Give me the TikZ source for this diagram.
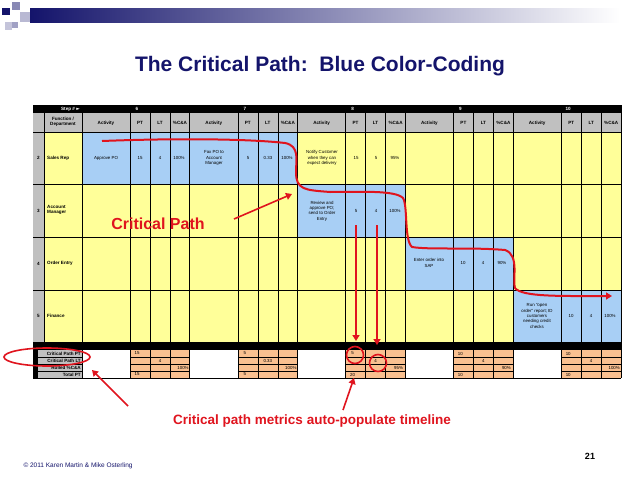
\documentclass[tikz,border=0pt]{standalone}
\usepackage{fontspec}
\setmainfont{Liberation Sans}
\newfontfamily\djv{DejaVu Sans}
\usetikzlibrary{arrows.meta}
\definecolor{navy}{HTML}{14146B}
\definecolor{cblue}{HTML}{A8CFF5}
\definecolor{cyel}{HTML}{FFFF99}
\definecolor{corg}{HTML}{F9C090}
\definecolor{cgray}{HTML}{C0C0C0}
\definecolor{cred}{HTML}{E0141E}
\tikzset{
 tiny/.style={font=\fontsize{4.4}{5.4}\selectfont,align=center,inner sep=0pt},
 tinyb/.style={font=\fontsize{4.6}{5.4}\selectfont\bfseries,align=center,inner sep=0pt},
 redl/.style={draw=cred,line width=2pt},
 redarr/.style={draw=cred,line width=1.6pt,-{Triangle[length=6pt,width=7pt]}},
 gridl/.style={draw=black,line width=0.5pt}
}
\begin{document}
\begin{tikzpicture}[x=1pt,y=-1pt]
\useasboundingbox (0,0) rectangle (638,479);
\fill[white] (0,0) rectangle (638,479);
% top decoration
\shade[left color=navy,right color=white] (30,8) rectangle (620,22);
\fill[navy] (2,8) rectangle (10,15);
\fill[navy!50] (12,2) rectangle (20,10);
\fill[navy!30] (20,12) rectangle (30,22);
\fill[navy!25] (5,22) rectangle (12,30);
\fill[navy!40] (12,22) rectangle (18,28);
\node[font=\fontsize{21}{24}\selectfont\bfseries,text=navy] (title) at (320,66) {The Critical Path:\ \ Blue Color-Coding};
\def\bw{107.8}
\fill[black] (33,105) rectangle (621,113);
\fill[cgray] (33,113) rectangle (621,132);
\node[tinyb,text=white,anchor=east] (steplbl) at (80,109) {Step \# {\djv ►}};
\node[tinyb] (fdh) at (63,122) {Function /\\Department};
\fill[cgray] (33,132) rectangle (44,342);
\foreach \y/\h/\n in {132/184/2,184/237/3,237/290/4,290/342/5}{
  \fill[cyel] (44,\y) rectangle (82,\h);
  \node[tinyb] at (38.5,{(\y+\h)/2}) {\n};
}
\node[tinyb,anchor=west] (r2) at (47,158) {Sales Rep};
\node[tinyb,anchor=west,align=left] (r3) at (47,210) {Account\\Manager};
\node[tinyb,anchor=west] (r4) at (47,263) {Order Entry};
\node[tinyb,anchor=west] (r5) at (47,316) {Finance};
\foreach \i/\s in {0/6,1/7,2/8,3/9,4/10}{
  \pgfmathsetmacro{\bx}{82+\i*\bw}
  \foreach \y/\h in {132/184,184/237,237/290,290/342}{
    \fill[cyel] (\bx,\y) rectangle ({\bx+\bw},\h);}
  \node[tinyb,text=white] at ({\bx+55},109) {\s};
  \node[tinyb] at ({\bx+24},123) {Activity};
  \node[tinyb] at ({\bx+58},123) {PT};
  \node[tinyb] at ({\bx+78},123) {LT};
  \node[tinyb] at ({\bx+98},123) {\%C\&A};
}
\fill[cblue] (82,132) rectangle (297.6,184);
\fill[cblue] (297.6,184) rectangle (405.4,237);
\fill[cblue] (405.4,237) rectangle (513.2,290);
\fill[cblue] (513.2,290) rectangle (621,342);
\fill[black] (33,342) rectangle (621,350);
\fill[black] (33,350) rectangle (38,378);
\fill[cgray] (38,350) rectangle (82,378);
\foreach \i in {0,...,4}{
  \pgfmathsetmacro{\bx}{82+\i*\bw}
  \fill[white] (\bx,350) rectangle ({\bx+48},378);
  \fill[corg] ({\bx+48},350) rectangle ({\bx+\bw},378);
  \foreach \y in {357,364,371} \draw[gridl,line width=0.3pt] ({\bx+48},\y) -- ({\bx+\bw},\y);
  \foreach \dx in {48,68,88} \draw[gridl] ({\bx+\dx},113) -- ({\bx+\dx},342) ({\bx+\dx},350) -- ({\bx+\dx},378);
  \draw[gridl,line width=1pt] (\bx,105) -- (\bx,378);
}
\foreach \y in {357,364,371} \draw[gridl,line width=0.3pt] (38,\y) -- (82,\y);
\draw[gridl,line width=1pt] (621,105) -- (621,378);
\draw[gridl] (44,113) -- (44,342);
\foreach \y in {132,184,237,290,342} \draw[gridl] (33,\y) -- (621,\y);
\draw[gridl] (33,378) -- (621,378);
\node[tinyb,anchor=east] (m1) at (81,353.5) {Critical Path PT};
\node[tinyb,anchor=east] (m2) at (81,360.5) {Critical Path LT};
\node[tinyb,anchor=east] (m3) at (81,367.5) {Rolled \%C\&A};
\node[tinyb,anchor=east] (m4) at (81,374.5) {Total PT};
\foreach \i/\p/\l/\c/\t in {0/15/4/100\%/15,1/5/0.33/100\%/5,2/5/4/95\%/20,3/10/4/90\%/10,4/10/4/100\%/10}{
  \pgfmathsetmacro{\bx}{82+\i*\bw}
  \node[tiny] at ({\bx+55},353.5) {\p};
  \node[tiny] at ({\bx+78},360.5) {\l};
  \node[tiny] at ({\bx+101},367.5) {\c};
  \node[tiny] at ({\bx+55},374.5) {\t};
}
\node[tiny] (a1) at (106,158) {Approve PO};
\node[tiny] at (140,158) {15}; \node[tiny] at (160,158) {4}; \node[tiny] at (179,158) {100\%};
\node[tiny] (a2) at (214,158) {Fax PO to\\Account\\Manager};
\node[tiny] at (248,158) {5}; \node[tiny] at (268,158) {0.33}; \node[tiny] at (287,158) {100\%};
\node[tiny] (a3) at (322,158) {Notify Customer\\when they can\\expect delivery};
\node[tiny] at (356,158) {15}; \node[tiny] at (376,158) {5}; \node[tiny] at (395,158) {95\%};
\node[tiny] (a4) at (322,211) {Review and\\approve PO;\\send to Order\\Entry};
\node[tiny] (pt8) at (356,211) {5}; \node[tiny] (lt8) at (376,211) {4}; \node[tiny] at (395,211) {100\%};
\node[tiny] (a5) at (429,263) {Enter order into\\SAP};
\node[tiny] at (463,263) {10}; \node[tiny] at (483,263) {4}; \node[tiny] at (502,263) {90\%};
\node[tiny] (a6) at (537,316) {Run ``open\\order'' report; ID\\customers\\needing credit\\checks};
\node[tiny] at (571,316) {10}; \node[tiny] at (591,316) {4}; \node[tiny] at (610,316) {100\%};
\coordinate (p0) at (102,141);
\coordinate (pe) at (612,296);
\draw[redl,-{Triangle[length=6pt,width=7pt]}] (p0) .. controls (180,138) and (250,139) .. (285,143)
  .. controls (300,146) and (296,160) .. (296,172)
  .. controls (296,190) and (305,190) .. (330,192)
  .. controls (360,192) and (395,190) .. (403,198)
  .. controls (408,206) and (404,240) .. (412,247)
  .. controls (430,250) and (470,247) .. (505,250)
  .. controls (520,255) and (512,280) .. (515,288)
  .. controls (522,297) and (560,296) .. (pe);
\node[font=\fontsize{16}{18}\selectfont\bfseries,text=cred] (cp) at (158,224) {Critical Path};
\coordinate (cpt) at (292,194);
\coordinate (cps) at (234,219);
\draw[redarr] (cps) -- (cpt);
\coordinate (v1s) at (356,225); \coordinate (v1e) at (356,341);
\coordinate (v2s) at (377,225); \coordinate (v2e) at (377,345);
\draw[redarr] (v1s) -- (v1e);
\draw[redarr] (v2s) -- (v2e);
\draw[cred,line width=1.6pt] (355,355) circle (8.5);
\draw[cred,line width=1.6pt] (378,363) circle (8.5);
\draw[cred,line width=1.6pt] (47,357) ellipse (43 and 9);
\node[font=\fontsize{13.5}{15}\selectfont\bfseries,text=cred] (mt) at (312,421) {Critical path metrics auto-populate timeline};
\coordinate (ma) at (128,406); \coordinate (mae) at (92,370);
\draw[redarr] (ma) -- (mae);
\coordinate (mb) at (343,410); \coordinate (mbe) at (354,378);
\draw[redarr] (mb) -- (mbe);
\node[font=\fontsize{9}{10}\selectfont\bfseries] (pg) at (590,456) {21};
\node[font=\fontsize{6.5}{8}\selectfont,text=navy,anchor=west] (copy) at (20,466) {© 2011 Karen Martin \& Mike Osterling};
\end{tikzpicture}
\end{document}
